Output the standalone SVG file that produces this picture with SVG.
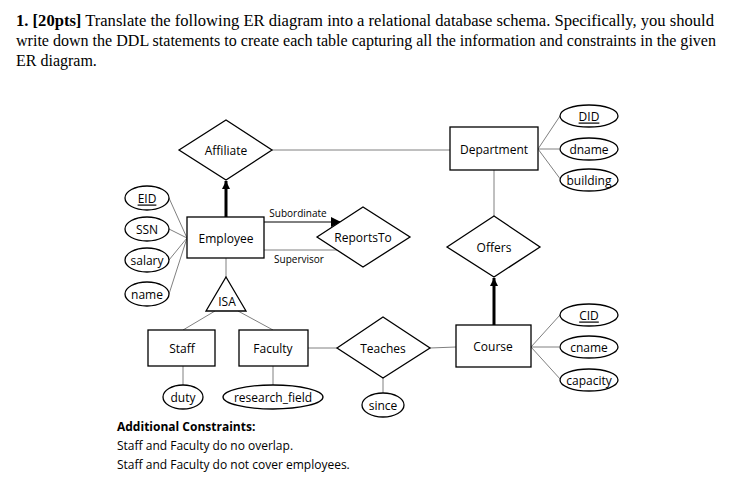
<svg xmlns="http://www.w3.org/2000/svg" width="731" height="500" viewBox="0 0 731 500">
<style>
.h{font-family:"Liberation Serif",serif;font-size:16px;fill:#000}
.t{font-family:"Open Sans","Noto Sans",sans-serif;font-size:12px;fill:#000;text-anchor:middle;dominant-baseline:central}
.s{font-size:10px}
.c{font-family:"Open Sans","Noto Sans",sans-serif;font-size:12px;fill:#000}
.n{fill:#fff;stroke:#000;stroke-width:1.3}
.l{stroke:#808080;stroke-width:1;fill:none}
.k{stroke:#000;stroke-width:3;fill:none}
</style>
<defs>
<marker id="a" markerWidth="8" markerHeight="8" refX="8" refY="4" orient="auto" markerUnits="userSpaceOnUse"><path d="M0,0 L8,4 L0,8Z" fill="#000"/></marker>
<marker id="b" markerWidth="10" markerHeight="10" refX="10" refY="5" orient="auto" markerUnits="userSpaceOnUse"><path d="M0,0 L10,5 L0,10Z" fill="#000"/></marker></defs>
<rect width="731" height="500" fill="#fff"/>
<text class="h" x="16" y="26" textLength="698" lengthAdjust="spacingAndGlyphs"><tspan font-weight="bold">1. [20pts]</tspan> Translate the following ER diagram into a relational database schema. Specifically, you should</text>
<text class="h" x="16" y="46" textLength="700" lengthAdjust="spacingAndGlyphs">write down the DDL statements to create each table capturing all the information and constraints in the given</text>
<text class="h" x="16" y="66">ER diagram.</text>
<g id="connectors">
<line class="l" x1="272" y1="150" x2="450" y2="150"/>
<line class="k" x1="226" y1="217" x2="226" y2="181" marker-end="url(#a)"/>
<line class="l" x1="169" y1="198" x2="187" y2="238"/>
<line class="l" x1="169" y1="229" x2="187" y2="238"/>
<line class="l" x1="169" y1="260" x2="187" y2="238"/>
<line class="l" x1="169" y1="294" x2="187" y2="238"/>
<line stroke="#000" x1="264" y1="222" x2="341" y2="222" marker-end="url(#b)"/>
<line class="l" x1="264" y1="250" x2="337" y2="250"/>
<line class="l" x1="226" y1="258" x2="226" y2="277"/>
<line class="l" x1="215" y1="311" x2="183" y2="330"/>
<line class="l" x1="238" y1="311" x2="273" y2="330"/>
<line class="l" x1="308" y1="348" x2="337" y2="348"/>
<line class="l" x1="430" y1="348" x2="456" y2="347"/>
<line class="l" x1="383" y1="378" x2="383" y2="393"/>
<line class="l" x1="183" y1="366" x2="183" y2="385"/>
<line class="l" x1="273" y1="366" x2="273" y2="385"/>
<line class="l" x1="538" y1="149" x2="560" y2="116"/>
<line class="l" x1="538" y1="149" x2="559" y2="149"/>
<line class="l" x1="538" y1="149" x2="561" y2="180"/>
<line class="l" x1="494" y1="170" x2="494" y2="216"/>
<line class="k" x1="494" y1="325" x2="494" y2="278" marker-end="url(#a)"/>
<line class="l" x1="531" y1="347" x2="560" y2="315"/>
<line class="l" x1="531" y1="347" x2="559" y2="347"/>
<line class="l" x1="531" y1="347" x2="561" y2="380"/>
</g>
<g id="affiliate"><polygon class="n" points="179,150 226,120 272,150 226,180"/><text class="t" x="226" y="150">Affiliate</text></g>
<g id="employee"><rect class="n" x="187" y="217" width="77" height="41"/><text class="t" x="226" y="238">Employee</text></g>
<g id="eid"><ellipse class="n" cx="147" cy="198" rx="22" ry="12"/><text class="t" x="147" y="198" text-decoration="underline">EID</text></g>
<g id="ssn"><ellipse class="n" cx="147" cy="229" rx="22" ry="12"/><text class="t" x="147" y="229">SSN</text></g>
<g id="salary"><ellipse class="n" cx="147" cy="260" rx="22" ry="12"/><text class="t" x="147" y="260">salary</text></g>
<g id="name"><ellipse class="n" cx="147" cy="294" rx="22" ry="12"/><text class="t" x="147" y="294">name</text></g>
<g id="reportsto"><polygon class="n" points="317,237 363,207 410,237 363,267"/><text class="t" x="363" y="237">ReportsTo</text></g>
<text class="t s" x="298" y="213">Subordinate</text>
<text class="t s" x="299" y="259">Supervisor</text>
<g id="isa"><polygon class="n" points="226,277 246,311 206,311"/><text class="t" x="227" y="301">ISA</text></g>
<g id="staff"><rect class="n" x="148" y="330" width="67" height="36"/><text class="t" x="182" y="348">Staff</text></g>
<g id="faculty"><rect class="n" x="239" y="330" width="69" height="36"/><text class="t" x="273" y="348">Faculty</text></g>
<g id="duty"><ellipse class="n" cx="183" cy="397" rx="20" ry="12"/><text class="t" x="183" y="397">duty</text></g>
<g id="research_field"><ellipse class="n" cx="273" cy="397" rx="50" ry="12"/><text class="t" x="273" y="397">research_field</text></g>
<g id="teaches"><polygon class="n" points="337,348 383,317 430,348 383,378"/><text class="t" x="383" y="348">Teaches</text></g>
<g id="since"><ellipse class="n" cx="383" cy="405" rx="21" ry="12"/><text class="t" x="383" y="405">since</text></g>
<g id="department"><rect class="n" x="450" y="127" width="88" height="43"/><text class="t" x="494" y="149">Department</text></g>
<g id="did"><ellipse class="n" cx="589" cy="116" rx="29" ry="11"/><text class="t" x="589" y="116" text-decoration="underline">DID</text></g>
<g id="dname"><ellipse class="n" cx="589" cy="149" rx="29" ry="11"/><text class="t" x="589" y="149">dname</text></g>
<g id="building"><ellipse class="n" cx="589" cy="180" rx="29" ry="11"/><text class="t" x="589" y="180">building</text></g>
<g id="offers"><polygon class="n" points="447,247 494,216 540,247 494,277"/><text class="t" x="494" y="247">Offers</text></g>
<g id="course"><rect class="n" x="456" y="325" width="75" height="42"/><text class="t" x="493" y="346">Course</text></g>
<g id="cid"><ellipse class="n" cx="589" cy="315" rx="29" ry="11"/><text class="t" x="589" y="315" text-decoration="underline">CID</text></g>
<g id="cname"><ellipse class="n" cx="589" cy="347" rx="29" ry="11"/><text class="t" x="589" y="347">cname</text></g>
<g id="capacity"><ellipse class="n" cx="589" cy="380" rx="29" ry="11"/><text class="t" x="589" y="380">capacity</text></g>
<text class="c" x="117" y="431" font-weight="bold">Additional Constraints:</text>
<text class="c" x="117" y="450">Staff and Faculty do no overlap.</text>
<text class="c" x="117" y="469">Staff and Faculty do not cover employees.</text>
</svg>
